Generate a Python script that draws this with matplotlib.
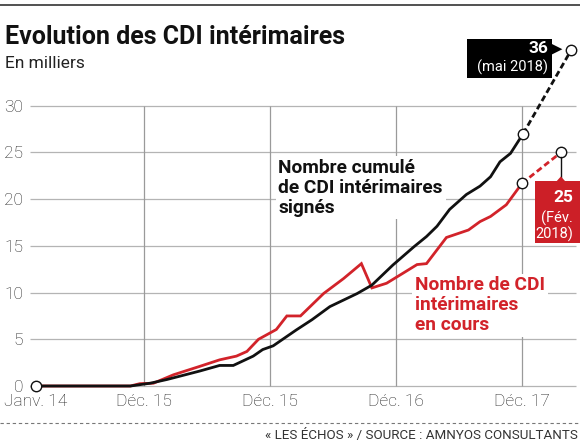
import matplotlib
matplotlib.use('Agg')
import matplotlib.pyplot as plt
from matplotlib.patches import Rectangle, Polygon
from matplotlib.lines import Line2D

plt.rcParams['font.family'] = ['Roboto', 'DejaVu Sans']

# x = month index (0 = janv. 2014), y = milliers
cumul_x = [0.7, 9.7, 11.6, 13.2, 16.3, 18.2, 19.5, 21.4, 22.3, 23.3, 25.5, 27.0,
           28.7, 31.3, 32.7, 34.7, 36.7, 37.9, 38.9, 40.1, 41.7, 43.0, 44.0, 44.9,
           45.9, 47.1]
cumul_y = [0, 0, 0.3, 0.7, 1.6, 2.2, 2.2, 3.2, 3.9, 4.3, 6.0, 7.1,
           8.5, 9.9, 10.8, 12.95, 14.9, 16.0, 17.1, 18.9, 20.5, 21.4, 22.4, 24.0,
           24.9, 27.0]
cours_x = [0.7, 9.7, 10.6, 11.9, 13.8, 16.3, 18.2, 19.8, 20.8, 21.9, 23.6, 24.6,
           25.9, 28.1, 30.0, 31.7, 32.7, 34.1, 35.7, 37.0, 37.9, 39.8, 41.9, 43.0,
           44.0, 45.5, 47.0]
cours_y = [0, 0, 0.25, 0.3, 1.2, 2.1, 2.8, 3.2, 3.7, 5.0, 6.05, 7.5,
           7.5, 9.9, 11.5, 13.1, 10.5, 11.0, 12.1, 13.0, 13.1, 15.9, 16.7, 17.6,
           18.15, 19.4, 21.7]
cumul_proj_x = [47.1, 51.7]
cumul_proj_y = [27.0, 36.0]
cours_proj_x = [47.0, 50.7]
cours_proj_y = [21.7, 25.0]

x_ticks = [0.7, 11, 23, 35, 47]
x_labels = ['Janv. 14', 'Déc. 15', 'Déc. 15', 'Déc. 16', 'Déc. 17']
v_grid = [11, 23, 35, 47]
y_ticks = [0, 5, 10, 15, 20, 25, 30]

RED = '#d2232a'
BOXRED = '#cc1f27'
W, H = 580, 443

fig = plt.figure(figsize=(W / 100, H / 100), dpi=100)
ax = fig.add_axes([30 / W, (H - 391) / H, 548 / W, (391 - 40) / H])
ax.set_xlim(0.14, 52.33)
ax.set_ylim(-0.535, 37.04)
for s in ax.spines.values():
    s.set_visible(False)

ax.hlines(y_ticks, 0.14, 52.15, color='#b4b4b4', lw=0.9, zorder=1)
ax.vlines(v_grid, 0, 30, color='#9a9a9a', lw=0.9, zorder=1)

ax.set_yticks(y_ticks)
ax.set_yticklabels([str(v) for v in y_ticks], fontsize=12.5, color='#222', fontweight='light')
ax.set_xticks(x_ticks)
ax.set_xticklabels(x_labels, fontsize=12.5, color='#222', fontweight='light')
ax.tick_params(length=0)
ax.tick_params(axis='y', pad=5)
ax.tick_params(axis='x', pad=2.5)

ax.plot(cumul_x, cumul_y, color='#111', lw=2.0, zorder=4, solid_joinstyle='miter')
ax.plot(cours_x, cours_y, color=RED, lw=2.0, zorder=3, solid_joinstyle='miter')
ax.plot(cumul_proj_x, cumul_proj_y, color='#111', lw=2.0, ls=(0, (2.2, 1.2)), zorder=4)
ax.plot(cours_proj_x, cours_proj_y, color=RED, lw=2.0, ls=(0, (2.2, 1.2)), zorder=3)

mk = dict(marker='o', ms=7.5, mfc='white', mec='#111', mew=1.0, ls='none', zorder=6, clip_on=False)
ax.plot([cumul_x[0], cumul_x[-1], cumul_proj_x[-1], cours_x[-1], cours_proj_x[-1]],
        [cumul_y[0], cumul_y[-1], cumul_proj_y[-1], cours_y[-1], cours_proj_y[-1]], **mk)

# series labels (white box hides the grid, stays under the lines)
ax.text(23.8, 24.3, 'Nombre cumulé\nde CDI intérimaires\nsignés', fontsize=13.8,
        fontweight='bold', color='#111', va='top', ha='left', linespacing=1.13, zorder=2,
        bbox=dict(fc='white', ec='none', pad=2))
ax.text(36.8, 11.75, 'Nombre de CDI\nintérimaires\nen cours', fontsize=13.8,
        fontweight='bold', color=RED, va='top', ha='left', linespacing=1.13, zorder=2,
        bbox=dict(fc='white', ec='none', pad=2))

# callouts, placed in pixels relative to end points
fig.canvas.draw()
def disp(x, y):
    return ax.transData.transform((x, y))

bx, by = disp(cumul_proj_x[-1], cumul_proj_y[-1])
fig.patches.append(Rectangle((bx - 104, by - 28), 85, 39, transform=None,
                             fc='black', ec='none', zorder=7))
fig.patches.append(Polygon([(bx - 20, by + 6), (bx - 20, by - 5), (bx - 9, by + 0.5)],
                           transform=None, fc='black', ec='none', zorder=7))
fig.text((bx - 23) / W, (by + 1) / H, '36', color='white', fontsize=12.5,
         fontweight='bold', ha='right', va='center', zorder=8)
fig.text((bx - 23) / W, (by - 18) / H, '(mai 2018)', color='white', fontsize=10.5,
         ha='right', va='center', zorder=8)

rx, ry = disp(cours_proj_x[-1], cours_proj_y[-1])
fig.lines.append(Line2D([rx, rx], [ry - 5, ry - 26], transform=None, color='#111', lw=1.0))
fig.patches.append(Rectangle((rx - 26, ry - 91), 45, 62, transform=None,
                             fc=BOXRED, ec='none', zorder=7))
fig.patches.append(Polygon([(rx - 5, ry - 29.5), (rx + 5, ry - 29.5), (rx, ry - 24)],
                           transform=None, fc=BOXRED, ec='none', zorder=7))
fig.text((rx + 12) / W, (ry - 45) / H, '25', color='white', fontsize=12.5,
         fontweight='bold', ha='right', va='center', zorder=8)
fig.text((rx + 12) / W, (ry - 66) / H, '(Fév.', color='white', fontsize=10.5,
         ha='right', va='center', zorder=8)
fig.text((rx + 12) / W, (ry - 82) / H, '2018)', color='white', fontsize=10.5,
         ha='right', va='center', zorder=8)

# header / footer
fig.add_artist(Line2D([0, 1], [1 - 4.5 / H, 1 - 4.5 / H], color='#333', lw=1.2))
fig.text(5 / W, 1 - 37 / H, 'Evolution des CDI intérimaires', fontsize=18,
         fontweight='bold', color='#111', va='center', ha='left')
fig.text(5 / W, 1 - 63 / H, 'En milliers', fontsize=12.5, color='#222', va='center', ha='left')
fig.add_artist(Line2D([0, 1], [1 - 423 / H, 1 - 423 / H], color='#777', lw=0.8,
                      ls=(0, (3, 2.5))))
fig.text(578 / W, 1 - 436 / H, '« LES ÉCHOS » / SOURCE : AMNYOS CONSULTANTS',
         fontsize=9.6, color='#333', va='center', ha='right')

fig.savefig('out.png', dpi=100)
